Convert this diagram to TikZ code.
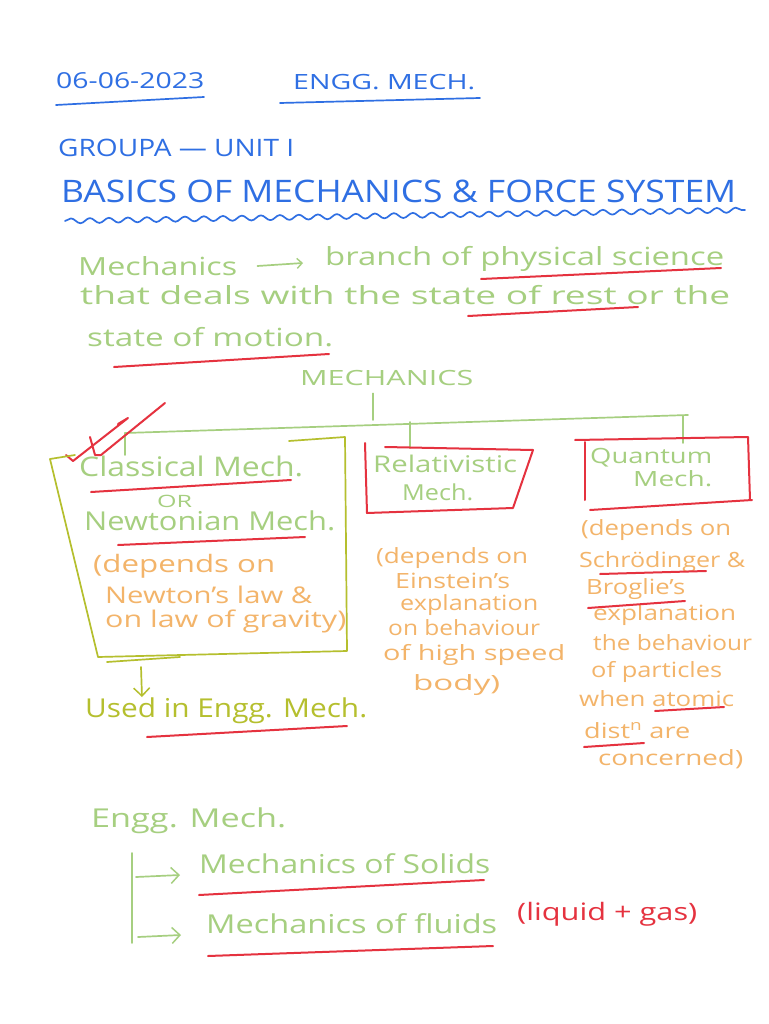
\documentclass[tikz,border=0pt]{standalone}
\usepackage{fontspec}
\setmainfont{Open Sans}
\usetikzlibrary{decorations.pathmorphing,arrows.meta}
\definecolor{inkblue}{HTML}{2F6FE3}
\definecolor{inkgreen}{HTML}{A6CF80}
\definecolor{inkolive}{HTML}{B5BF2E}
\definecolor{inkorange}{HTML}{F3B46A}
\definecolor{inkred}{HTML}{E5323F}
\newcommand{\fitw}[2]{\resizebox{#1pt}{\height}{#2}}
\newcommand{\fsz}[1]{\fontsize{#1}{#1}\selectfont}
\tikzset{
  txt/.style={inner sep=0pt, anchor=base west},
  bluetxt/.style={txt, text=inkblue},
  greentxt/.style={txt, text=inkgreen},
  olivetxt/.style={txt, text=inkolive},
  orangetxt/.style={txt, text=inkorange},
  redtxt/.style={txt, text=inkred},
  pen/.style={line width=1.7pt, line cap=round, line join=round},
  blueline/.style={pen, draw=inkblue},
  greenline/.style={pen, draw=inkgreen},
  oliveline/.style={pen, draw=inkolive},
  redline/.style={pen, draw=inkred, line width=2pt},
  barb/.style={-{Straight Barb[length=8pt,width=16pt,line width=1.5pt]}},
}
\begin{document}
\begin{tikzpicture}[x=1pt,y=-1pt]
\useasboundingbox[fill=white] (0,0) rectangle (768,1024);

% header
\node[bluetxt, font=\fsz{22}] (date) at (56,89) {\fitw{148}{06-06-2023}};
\node[bluetxt, font=\fsz{21}] (subj) at (293,90) {\fitw{182}{ENGG. MECH.}};
\draw[blueline] (56,105) -- (204,97);
\draw[blueline] (280,103) -- (480,98);
\node[bluetxt, font=\fsz{24}] (group) at (58,157) {\fitw{236}{GROUPA — UNIT I}};
\node[bluetxt, font=\fsz{31}] (title) at (61,203) {\fitw{675}{BASICS OF MECHANICS \& FORCE SYSTEM}};
\draw[blueline, decorate, decoration={snake, amplitude=2.5pt, segment length=19pt}] (65,221) -- (745,210);

% definition
\node[greentxt, font=\fsz{25}] (m1) at (78,275) {\fitw{159}{Mechanics}};
\node[greentxt, font=\fsz{25}] (m2) at (325,265) {\fitw{399}{branch of physical science}};
\draw[greenline, -{Straight Barb[length=5pt,width=10pt,line width=1.4pt]}] ([xshift=20pt,yshift=9pt]m1.base east) -- ([xshift=-22pt,yshift=2pt]m2.base west);
\node[greentxt, font=\fsz{25}] (m3) at (80,304) {\fitw{650}{that deals with the state of rest or the}};
\node[greentxt, font=\fsz{25}] (m4) at (87,346) {\fitw{246}{state of motion.}};
\draw[redline] (481,279) -- (721,268);
\draw[redline] (468,316) -- (638,307);
\draw[redline] (114,367) -- (329,354);

% tree
\node[greentxt, font=\fsz{21}] (mech) at (300,385) {\fitw{173}{MECHANICS}};
\coordinate (jt) at (373,420);
\coordinate (hl) at (125,433);
\coordinate (hr) at (688,415);
\coordinate (dc) at (125,455);
\coordinate (drt) at (410,422);
\coordinate (dr) at (410,448);
\coordinate (dqt) at (683,416);
\coordinate (dq) at (683,443);
\draw[greenline] ([yshift=-8pt]mech.south -| jt) -- (jt);
\draw[greenline] (hl) -- (hr);
\draw[greenline] (hl) -- (dc);
\draw[greenline] (drt) -- (dr);
\draw[greenline] (dqt) -- (dq);

% check mark
\draw[redline] (66,455) -- (73,461) -- (128,418) -- (118,424);
\draw[redline] (90,437) -- (95,455) -- (101,455) -- (165,403);

% classical box
\draw[oliveline] (75,455) -- (50,459) -- (98,657) -- (347,651) -- (345,437) -- (289,441);
\draw[oliveline] (107,662) -- (180,657);
\node[greentxt, font=\fsz{27}] (cl1) at (79,476) {\fitw{224}{Classical Mech.}};
\node[greentxt, font=\fsz{17}] (clor) at (157,507) {\fitw{35}{OR}};
\node[greentxt, font=\fsz{26}] (cl2) at (84,530) {\fitw{251}{Newtonian Mech.}};
\draw[redline] (91,492) -- (291,480);
\draw[redline] (118,545) -- (305,537);
\node[orangetxt, font=\fsz{24}] (cl3) at (93,572) {\fitw{182}{(depends on}};
\node[orangetxt, font=\fsz{23}] (cl4) at (105,603) {\fitw{207}{Newton's law \&}};
\node[orangetxt, font=\fsz{23}] (cl5) at (105,627) {\fitw{241}{on law of gravity)}};
\coordinate (ua) at (141,667);
\node[olivetxt, font=\fsz{26}] (used) at (85,717) {\fitw{282}{Used in Engg. Mech.}};
\draw[oliveline, barb] (ua) -- ([xshift=57pt,yshift=20pt]used.base west);
\draw[redline] (147,737) -- (347,726);

% relativistic box
\draw[redline] (385,447) -- (533,450) -- (513,508) -- (367,513) -- (365,443);
\node[greentxt, font=\fsz{23}] (rel1) at (373,472) {\fitw{144}{Relativistic}};
\node[greentxt, font=\fsz{22}] (rel2) at (402,500) {\fitw{71}{Mech.}};
\node[orangetxt, font=\fsz{21}] (r1) at (376,563) {\fitw{152}{(depends on}};
\node[orangetxt, font=\fsz{21}] (r2) at (395,588) {\fitw{115}{Einstein's}};
\node[orangetxt, font=\fsz{21}] (r3) at (400,610) {\fitw{138}{explanation}};
\node[orangetxt, font=\fsz{21}] (r4) at (388,635) {\fitw{152}{on behaviour}};
\node[orangetxt, font=\fsz{21}] (r5) at (383,660) {\fitw{182}{of high speed}};
\node[orangetxt, font=\fsz{21}] (r6) at (413,690) {\fitw{87}{body)}};

% quantum box
\draw[redline] (575,440) -- (748,437) -- (750,500);
\draw[redline] (585,442) -- (585,500);
\draw[redline] (590,510) -- (752,500);
\node[greentxt, font=\fsz{21}] (q1) at (590,463) {\fitw{122}{Quantum}};
\node[greentxt, font=\fsz{21}] (q2) at (633,486) {\fitw{79}{Mech.}};
\node[orangetxt, font=\fsz{21}] (qa) at (581,535) {\fitw{150}{(depends on}};
\node[orangetxt, font=\fsz{21}] (qb) at (579,567) {\fitw{166}{Schrödinger \&}};
\node[orangetxt, font=\fsz{21}] (qc) at (586,594) {\fitw{99}{Broglie's}};
\node[orangetxt, font=\fsz{21}] (qd) at (593,620) {\fitw{143}{explanation}};
\node[orangetxt, font=\fsz{21}] (qe) at (593,650) {\fitw{159}{the behaviour}};
\node[orangetxt, font=\fsz{21}] (qf) at (591,677) {\fitw{131}{of particles}};
\node[orangetxt, font=\fsz{21}] (qg) at (579,706) {\fitw{155}{when atomic}};
\node[orangetxt, font=\fsz{21}] (qh) at (584,738) {\fitw{106}{dist\textsuperscript{n} are}};
\node[orangetxt, font=\fsz{21}] (qi) at (598,765) {\fitw{145}{concerned)}};
\draw[redline] (600,574) -- (706,571);
\draw[redline] (588,608) -- (685,601);
\draw[redline] (655,711) -- (724,707);
\draw[redline] (584,747) -- (644,743);

% engineering mechanics
\node[greentxt, font=\fsz{26}] (em) at (91,827) {\fitw{195}{Engg. Mech.}};
\node[greentxt, font=\fsz{26}] (sol) at (199,873) {\fitw{291}{Mechanics of Solids}};
\node[greentxt, font=\fsz{26}] (flu) at (206,933) {\fitw{291}{Mechanics of fluids}};
\node[redtxt, font=\fsz{24}] (liq) at (517,920) {\fitw{180}{(liquid + gas)}};
\coordinate (bt) at (132,853);
\coordinate (bb) at (132,943);
\coordinate (b1) at (136,877);
\coordinate (b2) at (138,937);
\draw[greenline] (bt) -- (bb);
\draw[greenline, barb] (b1) -- ([xshift=-19pt,yshift=-2pt]sol.base west);
\draw[greenline, barb] (b2) -- ([xshift=-25pt,yshift=-2pt]flu.base west);
\draw[redline] (199,895) -- (484,880);
\draw[redline] (208,956) -- (493,946);
\end{tikzpicture}
\end{document}
